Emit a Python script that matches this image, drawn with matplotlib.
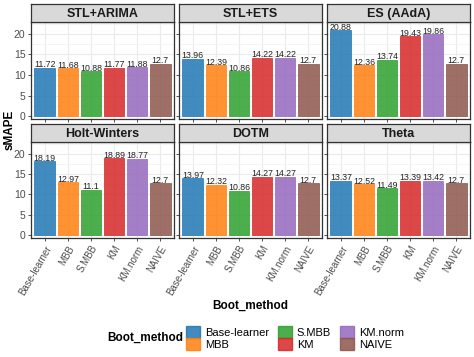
import matplotlib
matplotlib.use("Agg")
import matplotlib.pyplot as plt
from matplotlib.patches import Patch
import numpy as np

plt.rcParams['font.family'] = ['Liberation Sans', 'DejaVu Sans']

methods = ["Base-learner", "MBB", "S.MBB", "KM", "KM.norm", "NAIVE"]
models = ["STL+ARIMA", "STL+ETS", "ES (AAdA)", "Holt-Winters", "DOTM", "Theta"]
values = {
    "STL+ARIMA":    [11.72, 11.68, 10.88, 11.77, 11.88, 12.7],
    "STL+ETS":      [13.96, 12.39, 10.86, 14.22, 14.22, 12.7],
    "ES (AAdA)":    [20.88, 12.36, 13.74, 19.43, 19.86, 12.7],
    "Holt-Winters": [18.19, 12.97, 11.1, 18.89, 18.77, 12.7],
    "DOTM":         [13.97, 12.32, 10.86, 14.27, 14.27, 12.7],
    "Theta":        [13.37, 12.52, 11.49, 13.39, 13.42, 12.7],
}
colors = ["#1f77b4", "#ff7f0e", "#2ca02c", "#d62728", "#9467bd", "#8c564b"]
yticks = [0, 5, 10, 15, 20]

W, H = 474, 357
fig = plt.figure(figsize=(W / 100, H / 100), dpi=100)

col_left = [31, 179, 327]
col_w = 143
rows = [(22, 119), (142, 238)]
strip_h = 18

for i, m in enumerate(models):
    r, c = divmod(i, 3)
    top, bot = rows[r]
    ax = fig.add_axes([col_left[c] / W, 1 - bot / H, col_w / W, (bot - top) / H])
    x = np.arange(len(methods))
    ax.bar(x, values[m], width=0.9, color=colors, alpha=0.85,
           edgecolor=colors, linewidth=0.6, zorder=3)
    for xi, v in zip(x, values[m]):
        ax.text(xi, v - 0.35, f"{v:g}", ha='center', va='bottom', fontsize=6.3,
                color='#222222', zorder=4)
    ax.set_xlim(-0.6, 5.6)
    ax.set_ylim(-0.72, 22.9)
    ax.set_yticks(yticks)
    ax.set_yticks([2.5, 7.5, 12.5, 17.5, 22.5], minor=True)
    ax.set_xticks(x)
    ax.grid(True, which='major', color='#ebebeb', linewidth=0.8, zorder=0)
    ax.grid(True, which='minor', axis='y', color='#f2f2f2', linewidth=0.5, zorder=0)
    ax.tick_params(which='minor', length=0)
    ax.tick_params(which='major', length=2.5, width=0.6, color='#333333',
                   labelsize=7.5, labelcolor='#4d4d4d', pad=1.5)
    for s in ax.spines.values():
        s.set_color('#333333')
        s.set_linewidth(0.9)
    if c == 0:
        ax.set_yticklabels([str(t) for t in yticks])
    else:
        ax.set_yticklabels([])
    if r == 1:
        ax.set_xticklabels(methods, rotation=60, ha='right', va='top',
                           rotation_mode='anchor', fontsize=7)
    else:
        ax.set_xticklabels([])
    # strip
    sax = fig.add_axes([col_left[c] / W, 1 - top / H, col_w / W, strip_h / H])
    sax.set_facecolor('#d9d9d9')
    sax.set_xticks([])
    sax.set_yticks([])
    for s in sax.spines.values():
        s.set_color('#333333')
        s.set_linewidth(0.9)
    sax.text(0.5, 0.45, m, ha='center', va='center', fontsize=9,
             fontweight='bold', color='#1a1a1a', transform=sax.transAxes)

fig.text(10 / W, 1 - 130 / H, "sMAPE", rotation=90, ha='center', va='center',
         fontsize=8.5, fontweight='bold')
fig.text(250 / W, 1 - 306 / H, "Boot_method", ha='center', va='center',
         fontsize=8.5, fontweight='bold')

handles = [Patch(facecolor=col, edgecolor=col, alpha=0.85, label=lab)
           for col, lab in zip(colors, methods)]
leg = fig.legend(handles=handles, ncol=3, loc='center left',
                 bbox_to_anchor=(186 / W, 1 - 338 / H), frameon=False,
                 fontsize=8, handlelength=1.3, handleheight=1.3,
                 handletextpad=0.4, columnspacing=0.8, labelspacing=0.0,
                 borderpad=0, borderaxespad=0)
fig.text(183 / W, 1 - 338 / H, "Boot_method", ha='right', va='center',
         fontsize=8.5, fontweight='bold')

fig.savefig("out.png", dpi=100)
